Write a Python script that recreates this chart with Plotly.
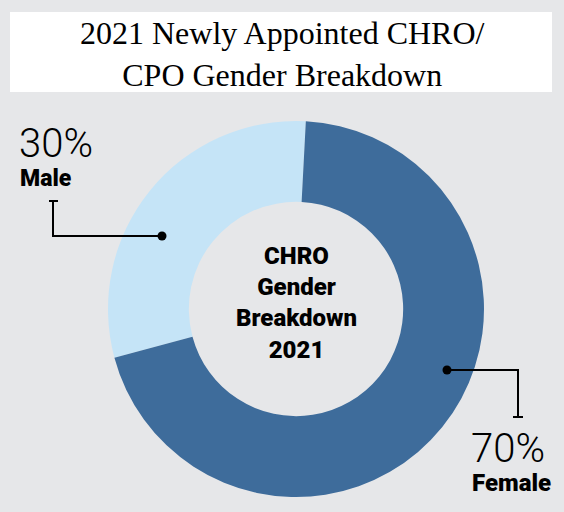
import plotly.graph_objects as go

# data
labels = ["Male", "Female"]
values = [30, 70]
colors = ["#c5e4f7", "#3e6c9b"]
title_text = "2021 Newly Appointed CHRO/<br>CPO Gender Breakdown"
center_text = "CHRO<br>Gender<br>Breakdown<br>2021"

W, H = 564, 512
BG = "#e6e7e9"


def px(x):
    return x / W


def py(y):
    # y measured from the top in pixels
    return 1 - y / H


fig = go.Figure()
fig.add_trace(go.Pie(
    labels=labels,
    values=values,
    marker=dict(colors=colors, line=dict(width=0)),
    hole=0.57,
    sort=False,
    direction="clockwise",
    rotation=255,
    textinfo="none",
    hoverinfo="label+percent",
    domain=dict(x=[px(108), px(484)], y=[py(497), py(121)]),
    showlegend=False,
))

shapes = []
# title box
shapes.append(dict(type="rect", xref="paper", yref="paper",
                   x0=px(10), x1=px(552), y0=py(92), y1=py(12),
                   fillcolor="white", line=dict(width=0), layer="below"))

line_style = dict(color="black", width=2)
# male connector
shapes.append(dict(type="path", xref="paper", yref="paper",
                   path=f"M {px(53)} {py(201)} L {px(53)} {py(236)} L {px(162)} {py(236)}",
                   line=line_style))
shapes.append(dict(type="line", xref="paper", yref="paper",
                   x0=px(49), x1=px(58), y0=py(201), y1=py(201), line=line_style))
# female connector
shapes.append(dict(type="path", xref="paper", yref="paper",
                   path=f"M {px(447)} {py(370)} L {px(518)} {py(370)} L {px(518)} {py(417)}",
                   line=line_style))
shapes.append(dict(type="line", xref="paper", yref="paper",
                   x0=px(513), x1=px(523), y0=py(417), y1=py(417), line=line_style))
# dots
for cx, cy in [(162, 236), (447, 370)]:
    shapes.append(dict(type="circle", xref="paper", yref="paper",
                       x0=px(cx - 4.5), x1=px(cx + 4.5), y0=py(cy + 4.5), y1=py(cy - 4.5),
                       fillcolor="black", line=dict(width=0)))

annotations = [
    dict(text=title_text, x=px(282), y=py(54), xref="paper", yref="paper",
         showarrow=False, xanchor="center", yanchor="middle",
         font=dict(family="Liberation Serif", size=32, color="black")),
    dict(text=center_text, x=px(296), y=py(303), xref="paper", yref="paper",
         showarrow=False, xanchor="center", yanchor="middle",
         font=dict(family="Roboto", size=24, color="black", weight=900)),
    dict(text="30%", x=px(17), y=py(143), xref="paper", yref="paper",
         showarrow=False, xanchor="left", yanchor="middle",
         font=dict(family="Roboto", size=40, color="black", weight=300)),
    dict(text="Male", x=px(18), y=py(178), xref="paper", yref="paper",
         showarrow=False, xanchor="left", yanchor="middle",
         font=dict(family="Roboto", size=23, color="black", weight=900)),
    dict(text="70%", x=px(469), y=py(448), xref="paper", yref="paper",
         showarrow=False, xanchor="left", yanchor="middle",
         font=dict(family="Roboto", size=40, color="black", weight=300)),
    dict(text="Female", x=px(470), y=py(483), xref="paper", yref="paper",
         showarrow=False, xanchor="left", yanchor="middle",
         font=dict(family="Roboto", size=24, color="black", weight=900)),
]

fig.update_layout(
    width=W, height=H,
    margin=dict(l=0, r=0, t=0, b=0),
    paper_bgcolor=BG,
    plot_bgcolor=BG,
    shapes=shapes,
    annotations=annotations,
)

# drop the default page margin so the figure sits at the window's corner
fig.write_html("out.html", config={"displayModeBar": False},
               post_script="document.body.style.margin='0';")
